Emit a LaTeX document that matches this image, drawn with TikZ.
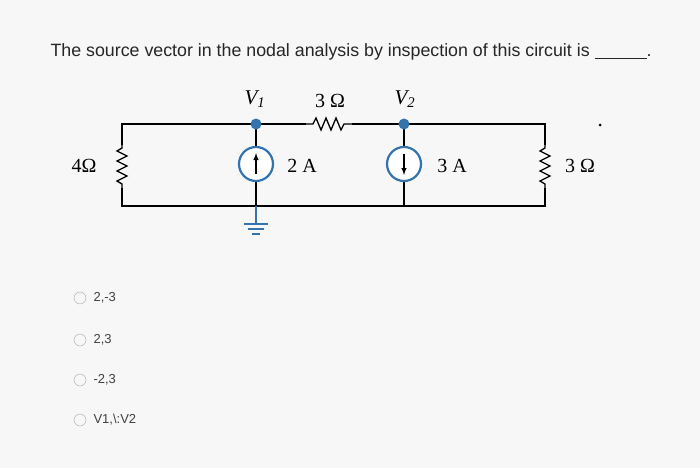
\documentclass[tikz,border=0pt]{standalone}
\usepackage{fontspec}
\setmainfont{Liberation Serif}
\newfontfamily\ui{Liberation Sans}
\begin{document}
\begin{tikzpicture}[x=1pt,y=-1pt,
  wire/.style={line width=2.4pt},
  res/.style={line width=1.3pt},
  bl/.style={draw=cyan!60!blue!80!black, line width=2.2pt},
  radio/.style={circle, draw=gray!70, minimum size=12pt, inner sep=0pt},
  opt/.style={anchor=west, font=\ui\fontsize{13}{13}\selectfont, text=black!75}]
\fill[gray!6] (0,0) rectangle (700,468);
\useasboundingbox (0,0) rectangle (700,468);
\node[anchor=west, font=\ui\fontsize{17.8}{18}\selectfont, text=black!85] (t) at (47,52) {The source vector in the nodal analysis by inspection of this circuit is \underline{\hspace{52pt}}.};
\coordinate (n1) at (256,124); \coordinate (n2) at (404,124);
\coordinate (tl) at (122,124); \coordinate (tr) at (545,124);
\coordinate (bl) at (122,206); \coordinate (br) at (545,206);
\coordinate (g) at (256,206);
\draw[wire] (tl|-0,145) -- (tl) -- (n1) -- (306,124);
\draw[wire] (352,124) -- (n2) -- (tr) -- (545,145);
\draw[wire] (122,188) -- (bl) -- (br) -- (545,188);
\draw[res] (306,124) -- (313,124) -- (316,118) -- (321,130) -- (326,118) -- (331,130) -- (336,118) -- (341,130) -- (344,124) -- (352,124);
\draw[res] (122,145) -- (122,148) -- (117,151) -- (127,156) -- (117,161) -- (127,166) -- (117,171) -- (127,176) -- (117,181) -- (122,184) -- (122,188);
\draw[res] (545,145) -- (545,148) -- (540,151) -- (550,156) -- (540,161) -- (550,166) -- (540,171) -- (550,176) -- (540,181) -- (545,184) -- (545,188);
\draw[wire] (n1) -- (256,147); \draw[wire] (256,181) -- (g);
\draw[wire] (n2) -- (404,147); \draw[wire] (404,181) -- (404,206);
\node[circle, bl, minimum size=34pt, fill=white] (s1) at (256,164) {};
\node[circle, bl, minimum size=34pt, fill=white] (s2) at (404,164) {};
\draw[-latex, line width=1.4pt] (256,174) -- (256,153);
\draw[-latex, line width=1.4pt] (404,154) -- (404,175);
\fill[cyan!60!blue!80!black] (n1) circle (5.5pt) (n2) circle (5.5pt);
\draw[wire, cyan!60!blue!80!black] (g) -- (256,224);
\draw[line width=2pt, cyan!60!blue!80!black] (244,224) -- (268,224) (248,229) -- (264,229) (252,234) -- (260,234);
\fill (600,125) circle (1.5pt);
\node[font=\itshape\fontsize{21}{21}\selectfont] (v1) at (255,99) {V\textsubscript{1}};
\node[font=\itshape\fontsize{21}{21}\selectfont] (v2) at (405,99) {V\textsubscript{2}};
\node[font=\fontsize{20}{20}\selectfont] (r3) at (330,101) {3 Ω};
\node[font=\fontsize{20}{20}\selectfont] (r4) at (84,166) {4Ω};
\node[font=\fontsize{20}{20}\selectfont] (a2) at (302,166) {2 A};
\node[font=\fontsize{20}{20}\selectfont] (a3) at (452,166) {3 A};
\node[font=\fontsize{20}{20}\selectfont] (r5) at (580,166) {3 Ω};
\node[radio] (o1) at (80,298) {}; \node[opt] at (90,298) {2,-3};
\node[radio] (o2) at (80,340) {}; \node[opt] at (90,340) {2,3};
\node[radio] (o3) at (80,380) {}; \node[opt] at (90,380) {-2,3};
\node[radio] (o4) at (80,420) {}; \node[opt] at (90,420) {V1,\textbackslash:V2};
\end{tikzpicture}
\end{document}
